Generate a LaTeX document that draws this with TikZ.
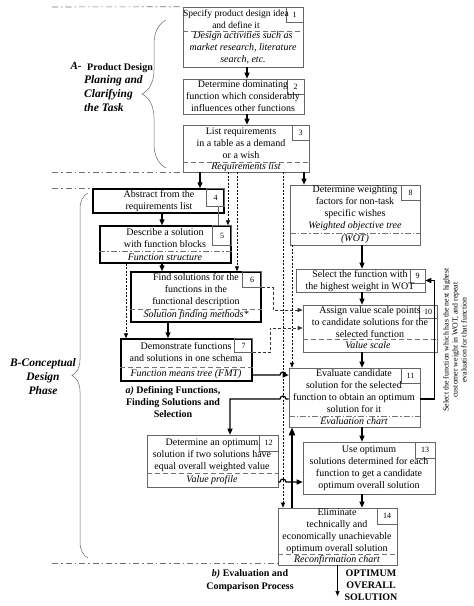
\documentclass[tikz,border=0pt]{standalone}
\usepackage{fontspec}
\setmainfont{Liberation Serif}
\usetikzlibrary{arrows.meta}
\usetikzlibrary{fit}
\usetikzlibrary{decorations.pathreplacing}
\newcommand{\boxfont}{\fontsize{10}{12}\selectfont}
\tikzset{
  stage box/.style={draw=black!60, line width=0.6pt, inner sep=0pt},
  key box/.style={draw=black, line width=1.5pt, inner sep=0pt},
  num box/.style={draw=black!60, line width=0.5pt, minimum width=17pt, minimum height=15pt, inner sep=0pt, font=\fontsize{8}{8}\selectfont},
  main text/.style={align=center, inner sep=0pt, font=\boxfont},
  tool text/.style={align=center, inner sep=0pt, font=\boxfont\itshape},
  split dash/.style={black!55, line width=0.6pt, dash pattern=on 5pt off 3pt},
  split dot/.style={black!55, line width=0.6pt, dash pattern=on 6pt off 2pt on 1.5pt off 2pt},
  phase line/.style={black!55, line width=0.6pt, dash pattern=on 6pt off 3pt on 1.5pt off 3pt},
  flow/.style={line width=1.2pt, -{Triangle[length=6pt,width=5pt]}},
  heavy flow/.style={line width=2pt, -{Triangle[length=8pt,width=6pt]}},
  info/.style={line width=0.7pt, dash pattern=on 2pt off 1.5pt, -{Triangle[length=5pt,width=4pt]}},
  link/.style={black!80, line width=0.7pt, dash pattern=on 3pt off 2pt, -{Triangle[length=5pt,width=4pt]}},
  phase brace/.style={black!60, line width=0.5pt, decorate},
  phase title/.style={inner sep=0pt, font=\fontsize{11.5}{14}\selectfont\bfseries\itshape},
  part title/.style={inner sep=0pt, align=center, font=\boxfont\bfseries}
}
\begin{document}
\begin{tikzpicture}[x=1pt, y=-1pt]
  \useasboundingbox (0,0) rectangle (474,606);

  \node[stage box, fit={(183,7) (303,67)}] (b1) {};
  \node[num box, anchor=north east] (n1) at (b1.north east) {1};
  \draw[split dash] (b1.west |- 0,31) -- (b1.east |- 0,31);
  \node[main text, font=\fontsize{9.5}{11.5}\selectfont] (t1) at (236,19) {Specify product design idea\\and define it};
  \node[tool text] (c1) at (243,48) {Design activities such as\\market research, literature\\search, etc.};

  \node[stage box, fit={(183,79) (304,114)}] (b2) {};
  \node[num box, anchor=north east] (n2) at (b2.north east) {2};
  \node[main text] (t2) at (243,96.5) {Determine dominating\\function which considerably\\influences other functions};

  \node[stage box, fit={(183,125) (309,172)}] (b3) {};
  \node[num box, anchor=north east] (n3) at (b3.north east) {3};
  \draw[split dash] (b3.west |- 0,162) -- (b3.east |- 0,162);
  \node[main text] (t3) at (241,143.5) {List requirements\\in a table as a demand\\or a wish};
  \node[tool text] (c3) at (246,167) {Requirements list};

  \node[key box, fit={(93,189) (224,213)}] (b4) {};
  \node[num box, anchor=north east, minimum width=18pt, minimum height=18pt] (n4) at (b4.north east) {4};
  \node[main text] (t4) at (159,201.5) {Abstract from the\\requirements list};

  \node[key box, fit={(100,226) (231,263)}] (b5) {};
  \node[num box, anchor=north east, minimum width=19pt, minimum height=20pt] (n5) at (b5.north east) {5};
  \draw[split dot] (b5.west |- 0,251) -- (b5.east |- 0,251);
  \node[main text] (t5) at (165,238.5) {Describe a solution\\with function blocks};
  \node[tool text] (c5) at (165,257) {Function structure};

  \node[key box, fit={(131,272) (261,322)}] (b6) {};
  \node[num box, anchor=north east, minimum width=19pt, minimum height=16pt] (n6) at (b6.north east) {6};
  \draw[split dash] (b6.west |- 0,309) -- (b6.east |- 0,309);
  \node[main text] (t6) at (196,290.5) {Find solutions for the\\functions in the\\functional description};
  \node[tool text] (c6) at (196,315.5) {Solution finding methods*};

  \node[key box, fit={(121,339) (252,381)}] (b7) {};
  \node[num box, anchor=north east, minimum width=18pt, minimum height=14pt] (n7) at (b7.north east) {7};
  \draw[split dash] (b7.west |- 0,367) -- (b7.east |- 0,367);
  \node[main text] (t7) at (186,352.5) {Demonstrate functions\\and solutions in one schema};
  \node[tool text] (c7) at (186,374.5) {Function means tree (FMT)};

  \node[stage box, fit={(290,185) (420,245)}] (b8) {};
  \node[num box, anchor=north east, minimum width=19pt] (n8) at (b8.north east) {8};
  \draw[split dot] (b8.west |- 0,233) -- (b8.east |- 0,233);
  \node[main text] (t8) at (355,202.5) {Determine weighting\\factors for non-task\\specific wishes};
  \node[tool text] (c8) at (355,226.5) {Weighted objective tree};
  \node[tool text] (w8) at (355,239) {(WOT)};

  \node[stage box, fit={(296,269) (425,292)}] (b9) {};
  \node[num box, anchor=north east, minimum width=15pt, minimum height=14pt] (n9) at (b9.north east) {9};
  \node[main text] (t9) at (360,281.5) {Select the function with\\the highest weight in WOT};

  \node[stage box, fit={(303,305) (437,352)}] (b10) {};
  \node[num box, anchor=north east, minimum width=18pt, minimum height=13pt] (n10) at (b10.north east) {10};
  \draw[split dash] (b10.west |- 0,339) -- (b10.east |- 0,339);
  \node[main text] (t10) at (370,322.5) {Assign value scale points\\to candidate solutions for the\\selected function};
  \node[tool text] (c10) at (368,345.5) {Value scale};

  \node[stage box, fit={(289,368) (420,427)}] (b11) {};
  \node[num box, anchor=north east, minimum width=19pt] (n11) at (b11.north east) {11};
  \draw[split dot] (b11.west |- 0,416) -- (b11.east |- 0,416);
  \node[main text] (t11) at (354,391.5) {Evaluate candidate\\solution for the selected\\function to obtain an optimum\\solution for it};
  \node[tool text] (c11) at (354,421.5) {Evaluation chart};

  \node[stage box, fit={(147,435) (278,487)}] (b12) {};
  \node[num box, anchor=north east, minimum width=19pt, minimum height=16pt] (n12) at (b12.north east) {12};
  \draw[split dash] (b12.west |- 0,473) -- (b12.east |- 0,473);
  \node[main text] (t12) at (212,455.5) {Determine an optimum\\solution if two solutions have\\equal overall weighted value};
  \node[tool text] (c12) at (212,480) {Value profile};

  \node[stage box, fit={(303,442) (435,494)}] (b13) {};
  \node[num box, anchor=north east, minimum width=20pt, minimum height=16pt] (n13) at (b13.north east) {13};
  \node[main text] (t13) at (369,468.5) {Use optimum\\solutions determined for each\\function to get a candidate\\optimum overall solution};

  \node[stage box, fit={(278,508) (397,565)}] (b14) {};
  \node[num box, anchor=north east, minimum width=20pt, minimum height=16pt] (n14) at (b14.north east) {14};
  \draw[split dash] (b14.west |- 0,554) -- (b14.east |- 0,554);
  \node[main text] (t14) at (337,531) {Eliminate\\technically and\\economically unachievable\\optimum overall solution};
  \node[tool text] (c14) at (337,560) {Reconfirmation chart};
  \coordinate (outend) at (b14.south |- 0,596);

  \draw[phase line] (52,7) -- (b1.north west);
  \draw[phase line] (b3.south west -| 52,0) -- (b3.south west);
  \draw[phase line] (b4.north west -| 52,0) -- (b4.north west);
  \draw[phase line] (52,563) -- (b14.west |- 0,563);
  \draw[phase brace, decoration={brace, amplitude=24pt}] (166,168) -- (166,20);
  \draw[phase brace, decoration={brace, amplitude=16pt}] (88,558) -- (88,193);

  \node[phase title, font=\fontsize{11}{13}\selectfont\bfseries\itshape] (phaseA) at (76,66) {A-};
  \node[inner sep=0pt, anchor=west, font=\boxfont\bfseries] (phaseAname) at (87,68) {Product Design};
  \node[phase title, align=left, anchor=west] (phaseAtask) at (84,94) {Planing and\\Clarifying\\the Task};
  \node[phase title, align=center] (phaseB) at (43,377) {B-Conceptual\\Design\\Phase};
  \node[part title] (partA) at (173,402.5) {\textit{a)} Defining Functions,\\Finding Solutions and\\Selection};
  \node[part title, font=\fontsize{10}{13}\selectfont\bfseries] (partB) at (250,580.5) {\textit{b)} Evaluation and\\Comparison Process};
  \node[part title] (result) at (371,585) {OPTIMUM\\OVERALL\\SOLUTION};
  \node[rotate=90, align=center, inner sep=0pt, font=\fontsize{7.8}{9}\selectfont] (repeatnote) at (455,340) {Select the function which has the next highest\\customer weight in WOT, and repeat\\evaluation for that function};

  \draw[flow] (b1.south -| 247,0) -- (b2.north -| 247,0);
  \draw[flow] (b2.south -| 247,0) -- (b3.north -| 247,0);
  \draw[flow] (b3.south -| 200,0) -- (b4.north -| 200,0);
  \draw[flow] (b3.south -| 304,0) -- (b8.north -| 304,0);
  \draw[info] (b3.south -| 228,0) -- (b5.north -| 228,0);
  \draw[info] (b3.south -| 237,0) -- (b6.north -| 237,0);
  \draw[info] (b3.south -| 283,0) -- (b14.north -| 283,0);
  \draw[black!60, line width=0.5pt] (218,0 |- n4.south) -- (218,0 |- b5.north);
  \draw[flow] (b4.south -| 162,0) -- (b5.north -| 162,0);
  \draw[flow] (b5.south -| 162,0) -- (b6.north -| 162,0);
  \draw[info] (b5.south -| 126,0) -- (b7.north -| 126,0);
  \draw[flow] (b6.south -| 168,0) -- (b7.north -| 168,0);
  \draw[link] (b6.east |- n6.south) -- (273,0 |- n6.south) -- (273,310) -- (b10.west |- 0,310);
  \draw[link] (b7.east |- n7.south) -- (270,0 |- n7.south) -- (270,328) -- (b10.west |- 0,328);
  \draw[flow] (b7.east |- 0,375) -- (280,375) arc[start angle=180, end angle=0, radius=3pt] -- (b11.west |- 0,375);
  \draw[flow] (b8.south -| 362,0) -- (b9.north -| 362,0);
  \draw[info] (b8.south -| 292,0) -- (b11.north -| 292,0);
  \draw[flow] (b9.south -| 362,0) -- (b10.north -| 362,0);
  \draw[flow] (b10.south -| 362,0) -- (b11.north -| 362,0);
  \draw[flow] (b11.west |- 0,399) -- (286,399) arc[start angle=0, end angle=180, radius=3pt] -| (b12.north -| 230,0);
  \draw[flow] (b11.south -| 362,0) -- (b13.north -| 362,0);
  \draw[flow] (b12.east |- 0,482) -- (280,482) arc[start angle=180, end angle=0, radius=3pt] -- (b13.west |- 0,482);
  \draw[flow] (b13.south -| 362,0) -- (b14.north -| 362,0);
  \draw[heavy flow] (b14.north -| 292,0) -- (b11.south -| 292,0);
  \draw[flow] (b11.east |- 0,399) -| ([xshift=9pt]b9.east) -- (b9.east);
  \draw[line width=0.6pt, -{Triangle[length=5pt,width=4pt]}] (b14.south) -- (outend);
\end{tikzpicture}
\end{document}
